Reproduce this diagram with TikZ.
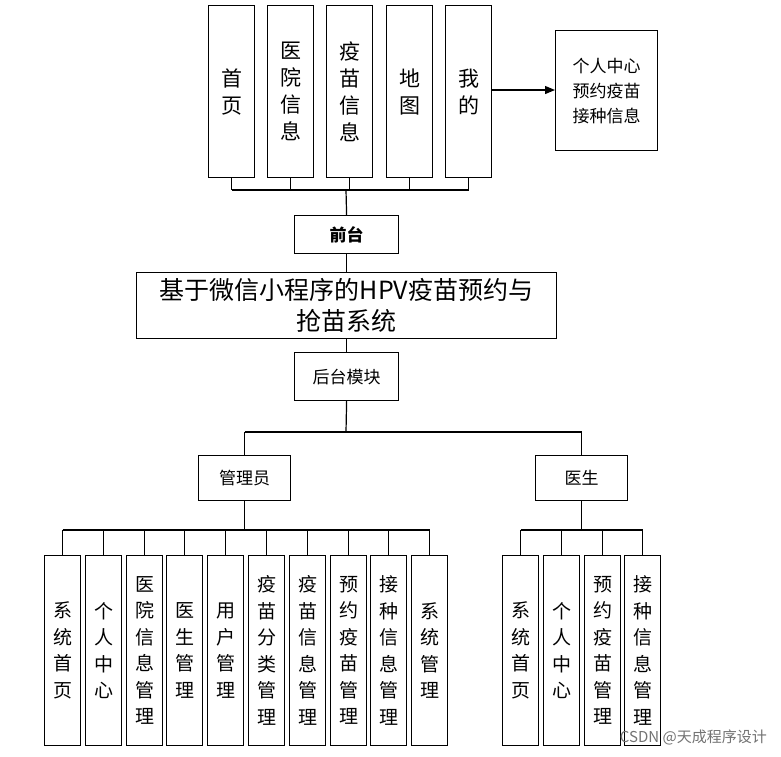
\documentclass[tikz,border=0pt]{standalone}
\usepackage{fontspec}
\setmainfont{Noto Sans CJK SC}
\usetikzlibrary{arrows.meta}
\begin{document}
\begin{tikzpicture}[x=1pt,y=-1pt,
 bx/.style={draw,line width=1.2pt,inner sep=0pt,anchor=north west,align=center},
 ln/.style={line width=1.2pt}]
\useasboundingbox (0,0) rectangle (781,756);
\fill[white] (0,0) rectangle (781,756);
% top
\foreach \n/\x/\t in {a/208/首\\页, b/267/医\\院\\信\\息, c/326/疫\\苗\\信\\息, d/386/地\\图, e/445/我\\的}{
 \node[bx,minimum width=46pt,minimum height=172pt,font=\fontsize{21}{27}\selectfont] (\n) at (\x,5) {\t};
}
\node[bx,minimum width=102pt,minimum height=120pt,font=\fontsize{17}{25}\selectfont] (me) at (555,30) {个人中心\\预约疫苗\\接种信息};
\draw[ln,-{Triangle[length=10pt,width=8pt]}] (e.east|-0,90) -- (me.west|-0,90);
\node[bx,minimum width=104pt,minimum height=38pt,font=\fontsize{17}{20}\selectfont\bfseries] (ft) at (294,215) {前台};
\coordinate (bus) at (346,190);
\foreach \n in {a,b,c,d,e}{\draw[ln] (\n.south) -- (\n.south|-bus);}
\draw[ln] (a.south|-bus) -- (e.south|-bus);
\draw[ln] (bus) -- (ft.north);
\node[bx,minimum width=420pt,minimum height=66pt,font=\fontsize{25}{31}\selectfont] (main) at (136,272) {基于微信小程序的HPV疫苗预约与\\抢苗系统};
\draw[ln] (ft.south) -- (main.north);
\node[bx,minimum width=104pt,minimum height=48pt,font=\fontsize{17}{20}\selectfont] (ht) at (294,352) {后台模块};
\draw[ln] (main.south) -- (ht.north);
\node[bx,minimum width=92pt,minimum height=45pt,font=\fontsize{17}{20}\selectfont] (adm) at (198,455) {管理员};
\node[bx,minimum width=92pt,minimum height=45pt,font=\fontsize{17}{20}\selectfont] (doc) at (535,455) {医生};
\coordinate (h1) at (346,432);
\draw[ln] (ht.south) -- (h1);
\draw[ln] (adm.north|-h1) -- (doc.north|-h1);
\draw[ln] (adm.north|-h1) -- (adm.north);
\draw[ln] (doc.north|-h1) -- (doc.north);
% bottom
\coordinate (h2) at (0,530);
\foreach \n/\x/\t in {p1/44/系\\统\\首\\页, p2/85/个\\人\\中\\心, p3/126/医\\院\\信\\息\\管\\理, p4/166/医\\生\\管\\理, p5/207/用\\户\\管\\理, p6/248/疫\\苗\\分\\类\\管\\理, p7/289/疫\\苗\\信\\息\\管\\理, p8/330/预\\约\\疫\\苗\\管\\理, p9/370/接\\种\\信\\息\\管\\理, p10/411/系\\统\\管\\理, q1/502/系\\统\\首\\页, q2/543/个\\人\\中\\心, q3/584/预\\约\\疫\\苗\\管\\理, q4/624/接\\种\\信\\息\\管\\理}{
 \node[bx,minimum width=36pt,minimum height=190pt,font=\fontsize{19}{26.5}\selectfont] (\n) at (\x,555) {\t};
 \draw[ln] (\n.north) -- (\n.north|-h2);
}
\draw[ln] (p1.north|-h2) -- (p10.north|-h2);
\draw[ln] (q1.north|-h2) -- (q4.north|-h2);
\draw[ln] (adm.south) -- (adm.south|-h2);
\draw[ln] (doc.south) -- (doc.south|-h2);
\node[anchor=east,text=black!55,font=\fontsize{15}{18}\selectfont,inner sep=1pt] (wm) at (768,737) {CSDN @天成程序设计};
\end{tikzpicture}
\end{document}
